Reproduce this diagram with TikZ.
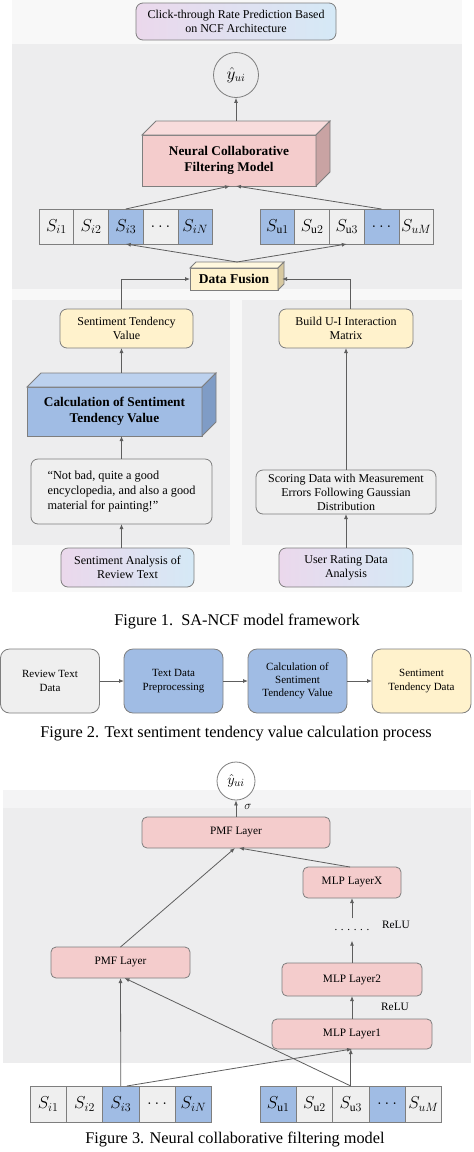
\documentclass[tikz,border=0pt]{standalone}
\usepackage{fontspec}
\setmainfont{Liberation Serif}
\usepackage{tikz}
\usetikzlibrary{calc}
\usetikzlibrary{arrows.meta}
\definecolor{pagegray}{HTML}{F8F8F8}
\definecolor{panelgray}{HTML}{EDEDEE}
\definecolor{lightpanel}{HTML}{F4F4F5}
\definecolor{boxline}{HTML}{7E7E7E}
\definecolor{linegray}{HTML}{5E5E5E}
\definecolor{pinkface}{HTML}{F4CCCC}
\definecolor{pinktop}{HTML}{F8DCDC}
\definecolor{pinkside}{HTML}{C9A3A3}
\definecolor{bluecell}{HTML}{A0BCE4}
\definecolor{bluetop}{HTML}{BCD1EE}
\definecolor{blueside}{HTML}{7F9CC6}
\definecolor{yellowface}{HTML}{FFF2CC}
\definecolor{yellowtop}{HTML}{FFF8DF}
\definecolor{yellowside}{HTML}{D8C9A0}
\definecolor{graycell}{HTML}{EFEFEF}
\definecolor{lilac}{HTML}{EBD8EC}
\definecolor{skyblue}{HTML}{D5E9F6}
\newcommand{\seqw}[4]{\node[seqcell,fill=graycell] (#1) at (#2,#3) {#4};}
\newcommand{\seqb}[4]{\node[seqcell,fill=bluecell] (#1) at (#2,#3) {#4};}
\newcommand{\cubeside}[4]{\filldraw[draw=boxline,line width=0.8pt,fill=#3] (#1.north west) -- ++(#2,-#2) -- ($(#1.north east)+(#2,-#2)$) -- (#1.north east) -- cycle; \filldraw[draw=boxline,line width=0.8pt,fill=#4] (#1.north east) -- ++(#2,-#2) -- ($(#1.south east)+(#2,-#2)$) -- (#1.south east) -- cycle;}
\tikzset{
  arr/.style={draw=linegray, line width=0.8pt, -{Latex[length=5pt,width=4pt]}},
  tbox/.style={draw=boxline, line width=0.8pt, rounded corners=7pt, align=center, inner sep=2pt, outer sep=0pt, font=\fontsize{12}{14}\selectfont},
  gradbox/.style={tbox, left color=lilac, right color=skyblue},
  yelbox/.style={tbox, fill=yellowface},
  cubebox/.style={draw=boxline, line width=0.8pt, align=center, inner sep=2pt, outer sep=0pt, font=\bfseries\fontsize{13.3}{16}\selectfont},
  seqcell/.style={draw=boxline, line width=0.6pt, minimum width=34.7, minimum height=35, inner sep=0pt, outer sep=0pt, font=\fontsize{16.5}{18}\selectfont},
  stepbox/.style={draw=boxline, line width=0.8pt, rounded corners=9pt, align=center, inner sep=2pt, outer sep=0pt, minimum width=99, minimum height=64, font=\fontsize{11}{13.3}\selectfont},
  layerbox/.style={tbox, fill=pinkface, rounded corners=5pt, font=\fontsize{11.3}{13}\selectfont},
  capt/.style={font=\fontsize{16.3}{19}\selectfont, inner sep=0pt}
}

\begin{document}
\begin{tikzpicture}[x=1pt, y=-1pt]
        \useasboundingbox (0,0) rectangle (474,1152);
        % backgrounds
        \fill[pagegray] (12,0) rectangle (462,592);
        \fill[panelgray] (12,44) rectangle (462,289);
        \fill[panelgray] (12,300) rectangle (230,545);
        \fill[panelgray] (242,300) rectangle (462,545);
        \fill[lightpanel] (3,790) rectangle (471,808);
        \fill[panelgray] (3,808) rectangle (471,1063);

        % figure 1: top part
        \node[gradbox, minimum width=200, minimum height=37] (title) at (236,21.5) {Click-through Rate Prediction Based\\on NCF Architecture};
        \node[circle, draw=boxline, line width=0.8pt, minimum size=45, inner sep=0pt, font=\fontsize{16}{18}\selectfont] (yhat1) at (236,75) {$\hat{y}_{ui}$};
        \node[cubebox, fill=pinkface, minimum width=174, minimum height=51] (ncf) at (229,160.5) {Neural Collaborative\\Filtering Model};
        \cubeside{ncf}{14}{pinktop}{pinkside}
        \coordinate (ncftop) at ($(ncf.north)+(7,-14)$);
        \draw[arr] (yhat1.south |- ncftop) -- (yhat1.south);
        % item row
        \seqw{si1}{56.4}{226.5}{$S_{i1}$}
        \seqw{si2}{91.1}{226.5}{$S_{i2}$}
        \seqb{si3}{125.8}{226.5}{$S_{i3}$}
        \seqw{si4}{160.5}{226.5}{$\dots$}
        \seqb{si5}{195.2}{226.5}{$S_{iN}$}
        % user row
        \seqb{su1}{277.4}{226.5}{$S_{\mathrm{u}1}$}
        \seqw{su2}{312.1}{226.5}{$S_{\mathrm{u}2}$}
        \seqw{su3}{346.8}{226.5}{$S_{\mathrm{u}3}$}
        \seqb{su4}{381.5}{226.5}{$\dots$}
        \seqw{su5}{416.2}{226.5}{$S_{uM}$}
        \draw[arr] (si3.north) -- ([xshift=1pt]ncf.south);
        \draw[arr] (su4.north) -- ([xshift=7pt]ncf.south);
        \node[cubebox, fill=yellowface, minimum width=88, minimum height=22, font=\bfseries\fontsize{13.5}{15}\selectfont] (fusion) at (234,279) {Data Fusion};
        \cubeside{fusion}{6}{yellowtop}{yellowside}
        \coordinate (fusiontop) at ($(fusion.north)+(3,-6)$);
        \coordinate (fusionR) at ($(fusion.east)+(4,0)$);
        \draw[arr] (fusiontop) -- (si3.south);
        \draw[arr] (fusiontop) -- (su3.south);

        % figure 1: left panel
        \node[yelbox, minimum width=133, minimum height=39] (stv) at (126.5,328.5) {Sentiment Tendency\\Value};
        \node[cubebox, fill=bluecell, minimum width=175, minimum height=49] (calc) at (114.5,411.5) {Calculation of Sentiment\\Tendency Value};
        \cubeside{calc}{14}{bluetop}{blueside}
        \coordinate (calctop) at ($(calc.north)+(7,-14)$);
        \node[tbox, fill=graycell, align=left, minimum width=181, minimum height=65, font=\fontsize{12.3}{15}\selectfont] (quote) at (121.5,491.5) {“Not bad, quite a good\\encyclopedia, and also a good\\material for painting!”};
        \node[gradbox, minimum width=133, minimum height=39] (sa) at (127.5,567.5) {Sentiment Analysis of\\Review Text};
        \draw[arr] (sa.north -| quote.north) -- (quote.south);
        \draw[arr] (quote.north) -- (quote.north |- calc.south);
        \draw[arr] (calctop) -- (calctop |- stv.south);
        \draw[arr] (stv.north -| quote.north) |- (fusion.west);

        % figure 1: right panel
        \node[yelbox, minimum width=134, minimum height=39] (build) at (346,328.5) {Build U-I Interaction\\Matrix};
        \node[tbox, fill=graycell, minimum width=180, minimum height=44] (score) at (346,492) {Scoring Data with Measurement\\Errors Following Gaussian\\Distribution};
        \node[gradbox, minimum width=134, minimum height=39] (user) at (346,567.5) {User Rating Data\\Analysis};
        \draw[arr] (user.north) -- (score.south);
        \draw[arr] (score.north) -- (build.south);
        \draw[arr] ([xshift=4pt]build.north) |- (fusionR);

        \node[capt] (cap1) at (237,622) {Figure 1.\ \ SA-NCF model framework};

        % figure 2
        \node[stepbox, fill=graycell] (rev) at (50,681) {Review Text\\Data};
        \node[stepbox, fill=bluecell] (prep) at (173.5,681) {Text Data\\Preprocessing};
        \node[stepbox, fill=bluecell] (calcb) at (297.5,681) {Calculation of\\Sentiment\\Tendency Value};
        \node[stepbox, fill=yellowface] (stdata) at (421.5,681) {Sentiment\\Tendency Data};
        \draw[arr] (rev.east) -- (prep.west);
        \draw[arr] (prep.east) -- (calcb.west);
        \draw[arr] (calcb.east) -- (stdata.west);
        \node[capt] (cap2) at (236,734) {Figure 2. Text sentiment tendency value calculation process};

        % figure 3
        \node[circle, draw=boxline, fill=white, line width=0.8pt, minimum size=38, inner sep=0pt, font=\fontsize{15}{17}\selectfont] (yhat2) at (236,781) {$\hat{y}_{ui}$};
        \node[font=\fontsize{12}{13}\selectfont] (sigma) at (248,807) {$\sigma$};
        \node[layerbox, minimum width=188, minimum height=31] (pmft) at (236,832.5) {PMF Layer};
        \node[layerbox, minimum width=98, minimum height=31] (mlpx) at (352,882.5) {MLP LayerX};
        \node[inner sep=0pt, minimum height=22, font=\fontsize{11}{13}\selectfont] (dots) at (352,929.5) {. . . . . .};
        \node[font=\fontsize{11.3}{13}\selectfont] (relu1) at (396,925) {ReLU};
        \node[layerbox, minimum width=139, minimum height=31] (pmfl) at (120.5,962.5) {PMF Layer};
        \node[layerbox, minimum width=140, minimum height=33] (mlp2) at (352,979.5) {MLP Layer2};
        \node[font=\fontsize{11.3}{13}\selectfont] (relu2) at (395,1007) {ReLU};
        \node[layerbox, minimum width=160, minimum height=30] (mlp1) at (352,1034) {MLP Layer1};
        \begin{scope}[seqcell/.append style={minimum width=36.3, minimum height=36}]
        % item row
        \seqw{ci1}{48.2}{1104}{$S_{i1}$}
        \seqw{ci2}{84.5}{1104}{$S_{i2}$}
        \seqb{ci3}{120.8}{1104}{$S_{i3}$}
        \seqw{ci4}{157.1}{1104}{$\dots$}
        \seqb{ci5}{193.4}{1104}{$S_{iN}$}
        % user row
        \seqb{cu1}{278.2}{1104}{$S_{\mathrm{u}1}$}
        \seqw{cu2}{314.5}{1104}{$S_{\mathrm{u}2}$}
        \seqw{cu3}{350.8}{1104}{$S_{\mathrm{u}3}$}
        \seqb{cu4}{387.1}{1104}{$\dots$}
        \seqw{cu5}{423.4}{1104}{$S_{uM}$}
        \end{scope}
        \draw[arr] (pmft.north) -- (yhat2.south);
        \draw[arr] (pmfl.north) -- ([xshift=-1pt]pmft.south);
        \draw[arr] ([xshift=-2pt]mlpx.north) -- ([xshift=3pt]pmft.south);
        \draw[arr] (dots.north) -- (mlpx.south);
        \draw[arr] (mlp2.north) -- (dots.south);
        \draw[arr] (mlp1.north) -- (mlp2.south);
        \draw[arr] (ci3.north) -- (pmfl.south);
        \draw[arr] (cu3.north) -- ([xshift=4pt]pmfl.south);
        \draw[arr] ([xshift=6pt]ci3.north) -- (mlp1.south);
        \draw[arr] (cu3.north) -- (cu3.north |- mlp1.south);
        \node[capt] (cap3) at (235,1140) {Figure 3. Neural collaborative filtering model};
    \end{tikzpicture}
\end{document}
